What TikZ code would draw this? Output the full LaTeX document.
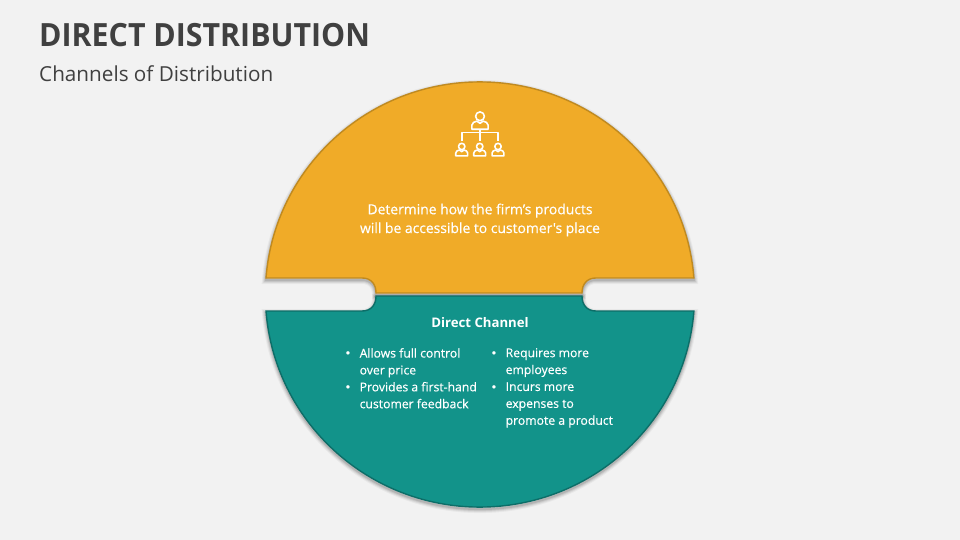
\documentclass[tikz,border=0pt]{standalone}
\usepackage{fontspec}
\setmainfont{Open Sans}
\newfontfamily\titlefont[FakeStretch=0.948]{Open Sans}
\newfontfamily\softfont[FakeBold=0.4]{Open Sans}
\newfontfamily\bulletfont{Liberation Sans}
\definecolor{orange1}{HTML}{F0AB28}
\definecolor{orange2}{HTML}{C08A20}
\definecolor{teal1}{HTML}{12938A}
\definecolor{teal2}{HTML}{0D6E68}
\definecolor{titlegray}{HTML}{404040}
\definecolor{bggray}{HTML}{F2F2F2}
\newcommand{\iconperson}[3]{%
  \draw[iconline] (#1,#2) circle[radius=#3];
  \draw[iconline] ({#1-1.85*#3},{#2+2.95*#3}) -- ({#1-1.85*#3},{#2+2.0*#3}) .. controls ({#1-1.85*#3},{#2+1.45*#3}) and ({#1-1.2*#3},{#2+1.2*#3}) .. ({#1-0.7*#3},{#2+1.1*#3}) -- (#1,{#2+1.6*#3}) -- ({#1+0.7*#3},{#2+1.1*#3}) .. controls ({#1+1.2*#3},{#2+1.2*#3}) and ({#1+1.85*#3},{#2+1.45*#3}) .. ({#1+1.85*#3},{#2+2.0*#3}) -- ({#1+1.85*#3},{#2+2.95*#3}) -- cycle;}
\newcommand{\orangeoutline}{(266,278) arc[start angle=184.43,end angle=355.57,x radius=214.6,y radius=212.5] -- (596,278) .. controls (587,278) and (582,284) .. (582,293) -- (376,293) .. controls (376,284) and (371,278) .. (362,278) -- cycle}
\newcommand{\tealoutline}{(266,311) arc[start angle=175.57,end angle=4.43,x radius=214.6,y radius=212.5] -- (596,311) .. controls (587,311) and (582,305) .. (582,296) -- (376,296) .. controls (376,305) and (371,311) .. (362,311) -- cycle}
\tikzset{
  x=1pt,y=-1pt,
  iconline/.style={draw=white,line width=1.6pt,line join=round},
  bodytext/.style={text=white,font=\softfont\fontsize{13.9}{18.8}\selectfont,align=center,inner sep=0pt},
  listtext/.style={text=white,font=\softfont\fontsize{12.2}{16.9}\selectfont,align=left,inner sep=0pt,anchor=north west},
  bulletmark/.style={text=white,font=\bulletfont\fontsize{12.5}{17}\selectfont,inner sep=0pt,anchor=base},
}
\begin{document}
\begin{tikzpicture}
\useasboundingbox (0,0) rectangle (960,540);
\fill[bggray] (0,0) rectangle (960,540);
% soft shadows
\foreach \w/\o in {8/0.04,6/0.06,4/0.08,2/0.10}{
  \draw[black,opacity=\o,line width=\w pt,shift={(0,2)}] \orangeoutline;
  \draw[black,opacity=\o,line width=\w pt,shift={(0,2)}] \tealoutline;
}
% orange
\draw[fill=orange1,draw=orange2,line width=1.4pt] \orangeoutline;
% teal
\draw[fill=teal1,draw=teal2,line width=1.4pt] \tealoutline;
% icon
\iconperson{480}{116.3}{4.4}
\iconperson{461.7}{146.5}{3.2}
\iconperson{479.7}{146.5}{3.2}
\iconperson{498}{146.5}{3.2}
\draw[iconline] (461.7,141.5) -- (461.7,132.7) -- (498,132.7) -- (498,141.5);
\draw[iconline] (480,130.5) -- (480,141.5);
% texts
\node[anchor=base west,inner sep=0pt,text=titlegray,font=\titlefont\fontsize{32}{36}\bfseries\selectfont] (title) at (39,47) {DIRECT DISTRIBUTION};
\node[anchor=base west,inner sep=0pt,text=titlegray,font=\fontsize{20.7}{24}\selectfont] (subtitle) at (39,81.5) {Channels of Distribution};
\node[bodytext] (desc) at (480,220) {Determine how the firm’s products\\will be accessible to customer's place};
\node[anchor=base,inner sep=0pt,text=white,font=\fontsize{13.2}{17}\bfseries\selectfont] (head) at (480,327.4) {Direct Channel};
\node[bulletmark] (b1) at (348,357.3) {•};
\node[listtext] (l1) at (359.5,348) {Allows full control\\over price\\Provides a first-hand\\customer feedback};
\node[bulletmark] (b2) at (348,391) {•};
\node[bulletmark] (b3) at (494,357.3) {•};
\node[listtext] (l2) at (505.5,348) {Requires more\\employees\\Incurs more\\expenses to\\promote a product};
\node[bulletmark] (b4) at (494,391) {•};
\end{tikzpicture}
\end{document}
